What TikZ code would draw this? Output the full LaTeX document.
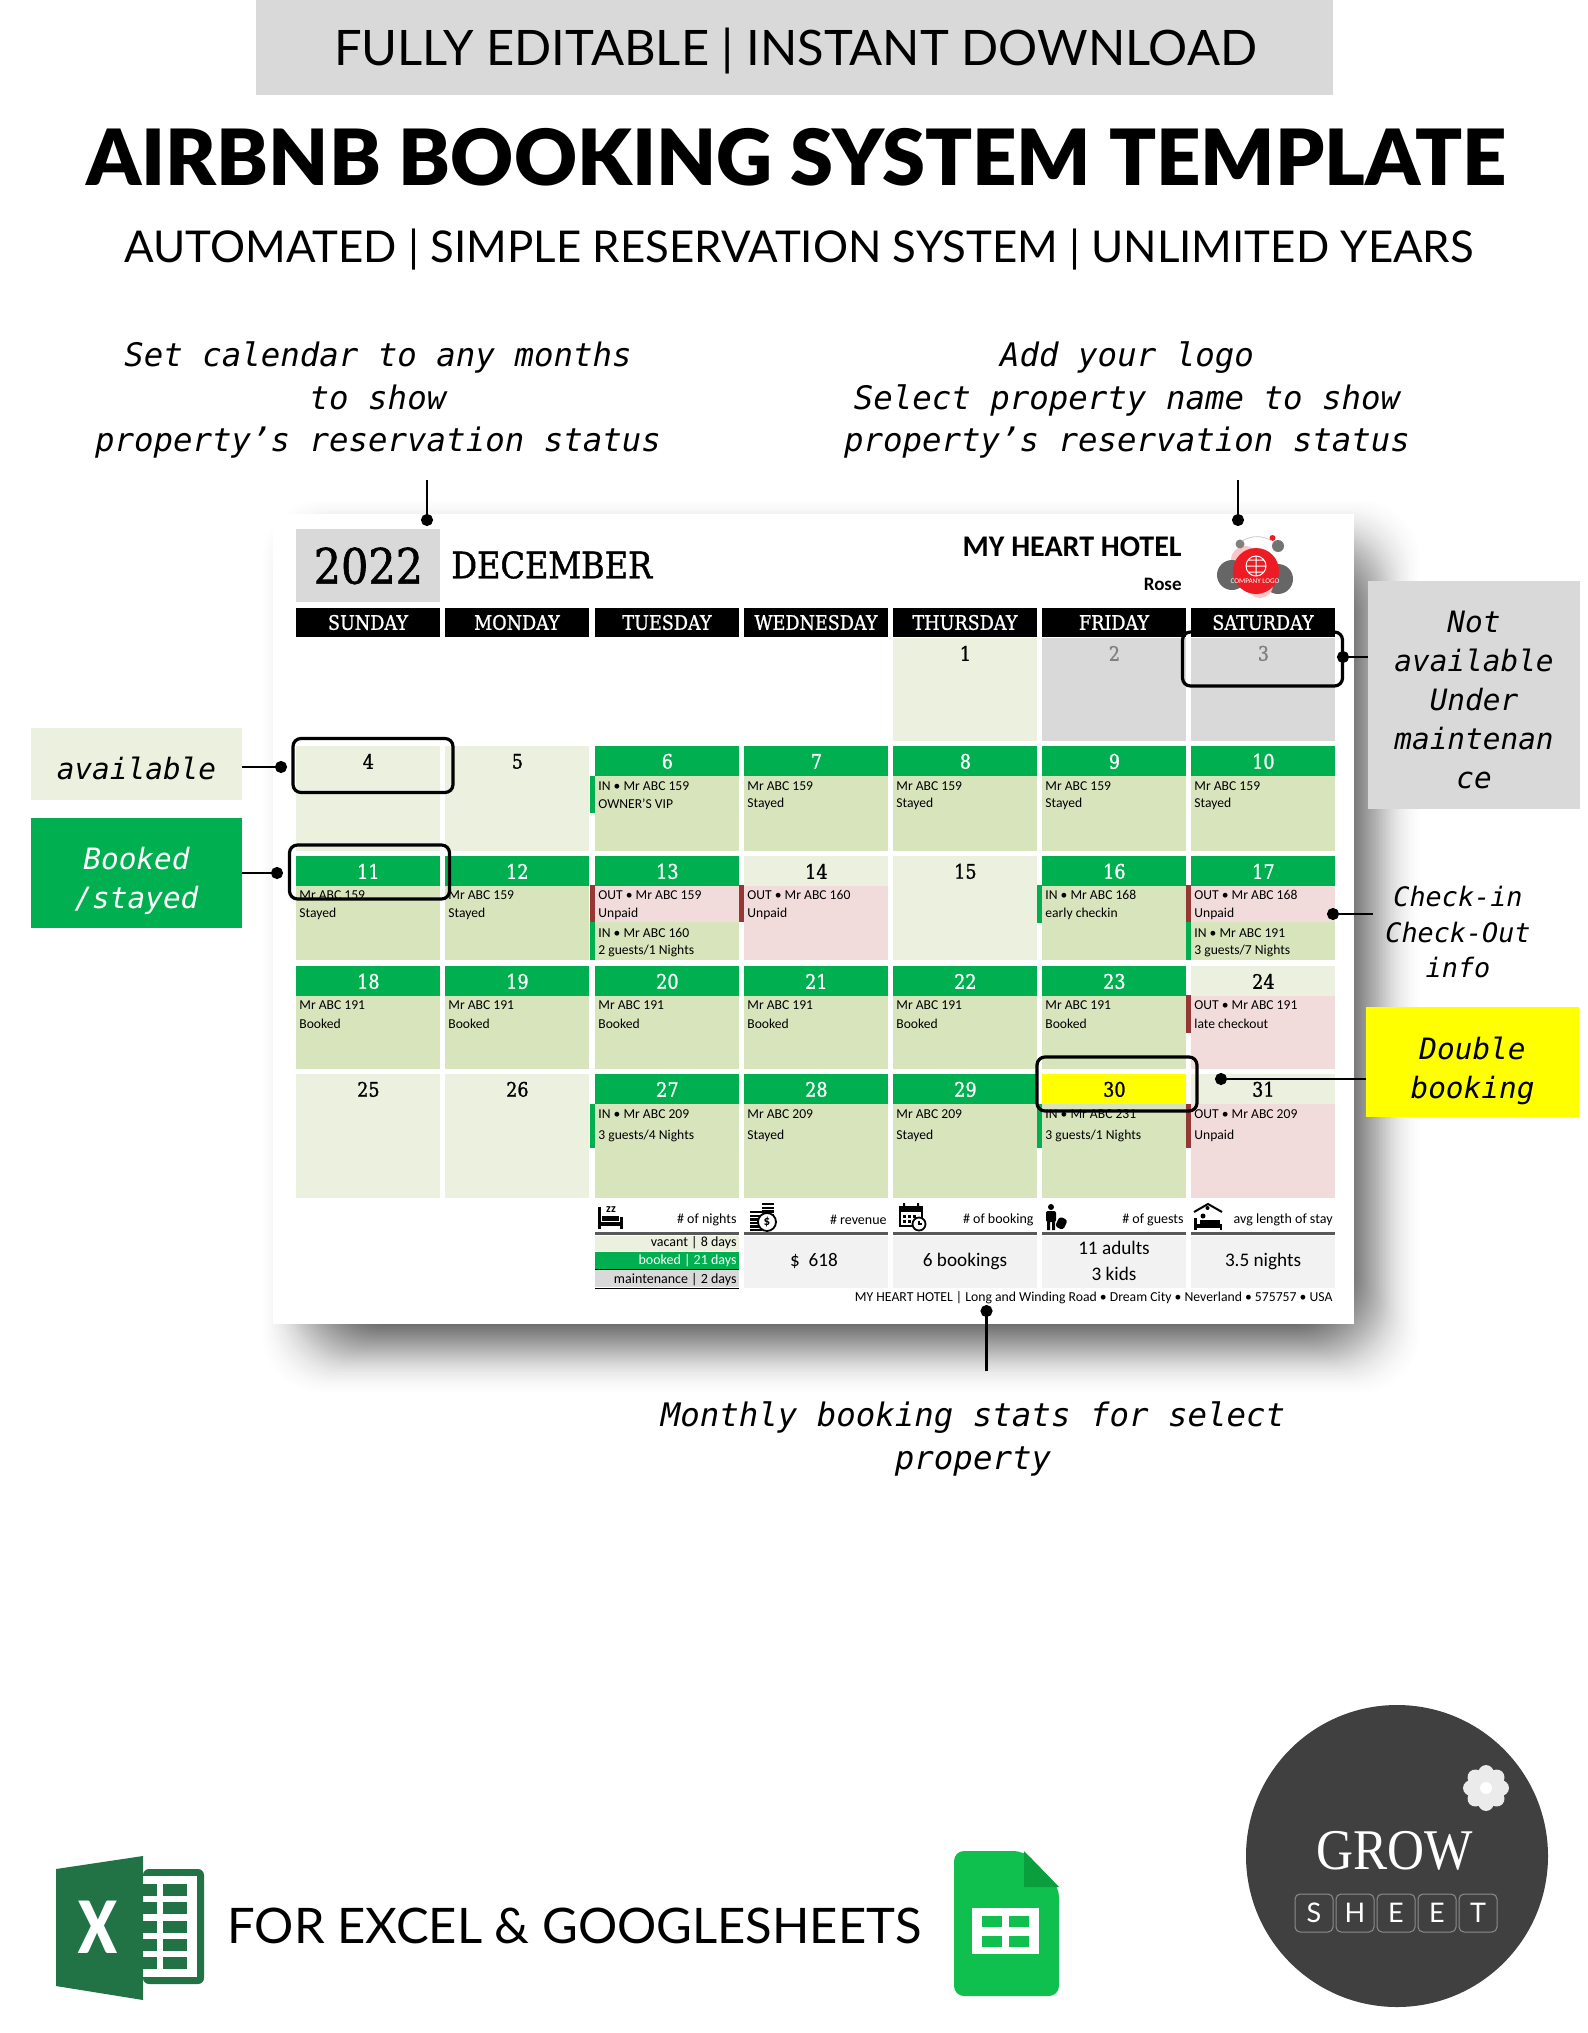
\documentclass[tikz,border=0pt]{standalone}
\usepackage{fontspec}
\setmainfont{Carlito}
\newfontfamily\slabfont[FakeStretch=0.88,FakeBold=1.2]{DejaVu Serif}
\newfontfamily\headfont[BoldFont={Lato Black}]{Lato}
\newfontfamily\notefont{DejaVu Sans Mono}
\newfontfamily\growfont[FakeStretch=0.89]{Liberation Serif}
\usetikzlibrary{arrows.meta}
\definecolor{cellgreen}{HTML}{00B050}
\definecolor{cellbody}{HTML}{D8E4BC}
\definecolor{cellfree}{HTML}{EBF1DE}
\definecolor{cellpink}{HTML}{F2DCDB}
\definecolor{cellgrey}{HTML}{D9D9D9}
\definecolor{cellyellow}{HTML}{FFFF00}
\definecolor{barred}{HTML}{953735}
\definecolor{statgrey}{HTML}{F2F2F2}
\definecolor{growgrey}{HTML}{404040}
\definecolor{xlgreen}{HTML}{217346}
\definecolor{gsgreen}{HTML}{10C04F}
\definecolor{gsfold}{HTML}{0A9E3C}
\definecolor{logored}{HTML}{ED1C24}
\tikzset{>=latex,
note/.style={font=\notefont\itshape\fontsize{14.7}{19.5}\selectfont, align=center, inner sep=0},
bignote/.style={font=\notefont\itshape\fontsize{16.2}{21.3}\selectfont, align=center, inner sep=0},
leader/.style={line width=1.2pt, -{Circle[length=6pt]}},
ring/.style={draw, line width=1.6pt, rounded corners=4pt, inner sep=0, minimum height=27pt, minimum width=80pt},
weekhead/.style={fill=black, text=white, font=\slabfont\fontsize{10}{10}\selectfont, minimum width=72pt, minimum height=14.5pt, inner sep=0},
hgreen/.style={fill=cellgreen, text=white},
hfree/.style={fill=cellfree},
hgrey/.style={fill=cellgrey, text=black!50},
hyellow/.style={fill=cellyellow},
dayhead/.style={anchor=north west, font=\slabfont\fontsize{10}{10}\selectfont, minimum width=72pt, minimum height=15pt, inner sep=0},
guest/.style={anchor=west, font=\fontsize{6.8}{7}\selectfont, inner sep=0},
statlabel/.style={anchor=east, font=\fontsize{7}{7}\selectfont, inner sep=0},
statvalue/.style={font=\fontsize{9.6}{10}\selectfont, inner sep=0},
sheetkey/.style={draw=black!45, line width=.5pt, rounded corners=2.5pt, text=white, font=\headfont\fontsize{13.5}{14}\selectfont, minimum width=19pt, minimum height=19pt, inner sep=0}
}
\newcommand{\daycell}[6]{%
\fill[#6] (#2,#3+30) rectangle (#2+144,#4);
\node[dayhead,#5] (day#1) at (#2,#3) {#1};
}
\newcommand{\sidebar}[4]{\fill[#1] (#2-5,#3) rectangle (#2,#4);}
\begin{document}
\begin{tikzpicture}[x=0.5pt,y=-0.5pt]
\useasboundingbox (0,0) rectangle (1588,2033);
\fill[white] (0,0) rectangle (1588,2033);

\node[fill=cellgrey, minimum width=538.5pt, minimum height=47.5pt, inner sep=0] (banner) at (794.5,47.5) {};
\node[font=\headfont\fontsize{24.45}{28}\selectfont, inner sep=0] (bannertext) at (795.5,51) {FULLY EDITABLE | INSTANT DOWNLOAD};
\node[font=\headfont\bfseries\fontsize{38.8}{40}\selectfont, inner sep=0] (title) at (796.5,157.5) {AIRBNB BOOKING SYSTEM TEMPLATE};
\node[font=\headfont\fontsize{21.9}{26}\selectfont, inner sep=0] (subtitle) at (799,250) {AUTOMATED | SIMPLE RESERVATION SYSTEM | UNLIMITED YEARS};

\node[bignote] (calnote) at (378,400) {Set calendar to any months\\to show\\property’s reservation status};
\node[bignote] (logonote) at (1127,400) {Add your logo\\Select property name to show\\property’s reservation status};

\foreach \i in {0,...,59} {
\pgfmathsetmacro\p{\i/59}
\pgfmathsetmacro\o{0.002+0.035*\p}
\fill[black, opacity=\o, rounded corners=30pt] (262+\p*85,500+\p*85) rectangle (1420-\p*90,1393-\p*88);
}
\fill[white] (273,514) rectangle (1353.5,1324);

\node[fill=cellgrey, minimum width=72pt, minimum height=36.5pt, inner sep=0, anchor=north west, font=\slabfont\fontsize{24.4}{25}\selectfont] (year) at (296,529) {2022};
\node[anchor=west, inner sep=0, font=\slabfont\fontsize{18.2}{19}\selectfont] (month) at (451,565) {DECEMBER};
\node[anchor=east, inner sep=0, font=\bfseries\fontsize{15}{16}\selectfont] (hotel) at (1182,547) {MY HEART HOTEL};
\node[anchor=east, inner sep=0, font=\bfseries\fontsize{9.5}{10}\selectfont] (owner) at (1182,584) {Rose};

\fill[logored!25] (1245,560) circle (14);
\fill[black!60] (1232,575) circle (15);
\fill[black!60] (1278,579) circle (15);
\fill[logored!25] (1260,585) circle (13);
\fill[black!50] (1240,544) circle (4.5);
\fill[black!55] (1278,546) circle (6);
\fill[logored] (1272.5,538) circle (3);
\draw[black!20, line width=.4pt] (1242,541) to[bend left=30] (1272,541);
\fill[logored] (1256,571) circle (23);
\draw[white, line width=.5pt] (1256,566) circle (10) (1246,566) -- (1266,566) (1256,556) -- (1256,576) (1248,560) -- (1264,560) (1248,572) -- (1264,572);
\node[text=white, inner sep=0, font=\fontsize{3.6}{4}\selectfont] (logotext) at (1255,581) {COMPANY LOGO};

\foreach \d/\x in {SUNDAY/368,MONDAY/517,TUESDAY/667,WEDNESDAY/816,THURSDAY/965,FRIDAY/1114,SATURDAY/1263}
\node[weekhead] (head\d) at (\x,622.5) {\d};

\foreach \n/\x/\s/\b in {1/893/hfree/cellfree,2/1042/hgrey/cellgrey,3/1191/hgrey/cellgrey}
{\daycell{\n}{\x}{638}{741}{\s}{\b}}
\foreach \n/\x/\s/\b in {4/296/hfree/cellfree,5/445/hfree/cellfree,6/595/hgreen/cellbody,7/744/hgreen/cellbody,8/893/hgreen/cellbody,9/1042/hgreen/cellbody,10/1191/hgreen/cellbody}
{\daycell{\n}{\x}{746}{851}{\s}{\b}}
\foreach \n/\x/\s/\b in {11/296/hgreen/cellbody,12/445/hgreen/cellbody,13/595/hgreen/cellbody,14/744/hfree/cellpink,15/893/hfree/cellfree,16/1042/hgreen/cellbody,17/1191/hgreen/cellbody}
{\daycell{\n}{\x}{856}{960}{\s}{\b}}
\foreach \n/\x/\s/\b in {18/296/hgreen/cellbody,19/445/hgreen/cellbody,20/595/hgreen/cellbody,21/744/hgreen/cellbody,22/893/hgreen/cellbody,23/1042/hgreen/cellbody,24/1191/hfree/cellpink}
{\daycell{\n}{\x}{966}{1069}{\s}{\b}}
\foreach \n/\x/\s/\b in {25/296/hfree/cellfree,26/445/hfree/cellfree,27/595/hgreen/cellbody,28/744/hgreen/cellbody,29/893/hgreen/cellbody,30/1042/hyellow/cellbody,31/1191/hfree/cellpink}
{\daycell{\n}{\x}{1074}{1198}{\s}{\b}}

\fill[cellpink] (595,886) rectangle (739,922);
\fill[cellpink] (1191,886) rectangle (1335,922);
\sidebar{cellgreen}{595}{776}{813}
\sidebar{barred}{595}{885}{922}
\sidebar{cellgreen}{595}{922}{960}
\sidebar{barred}{744}{885}{922}
\sidebar{cellgreen}{1042}{885}{923}
\sidebar{barred}{1191}{885}{922}
\sidebar{cellgreen}{1191}{922}{960}
\sidebar{barred}{1191}{995}{1033}
\sidebar{cellgreen}{595}{1104}{1148}
\sidebar{cellgreen}{1042}{1104}{1148}
\sidebar{barred}{1191}{1104}{1148}

\foreach \x/\y/\t in {598/786/{IN • Mr ABC 159},598/804/{OWNER'S VIP},
747/786/{Mr ABC 159},747/804/Stayed,896/786/{Mr ABC 159},896/804/Stayed,1045/786/{Mr ABC 159},1045/804/Stayed,1194/786/{Mr ABC 159},1194/804/Stayed,
299/895/{Mr ABC 159},299/914/Stayed,448/895/{Mr ABC 159},448/914/Stayed,
598/895/{OUT • Mr ABC 159},598/914/Unpaid,598/933/{IN • Mr ABC 160},598/951/{2 guests/1 Nights},
747/895/{OUT • Mr ABC 160},747/914/Unpaid,
1045/895/{IN • Mr ABC 168},1045/914/{early checkin},
1194/895/{OUT • Mr ABC 168},1194/914/Unpaid,1194/933/{IN • Mr ABC 191},1194/951/{3 guests/7 Nights},
299/1005/{Mr ABC 191},299/1024/Booked,448/1005/{Mr ABC 191},448/1024/Booked,598/1005/{Mr ABC 191},598/1024/Booked,747/1005/{Mr ABC 191},747/1024/Booked,896/1005/{Mr ABC 191},896/1024/Booked,1045/1005/{Mr ABC 191},1045/1024/Booked,
1194/1005/{OUT • Mr ABC 191},1194/1024/{late checkout},
598/1114/{IN • Mr ABC 209},598/1136/{3 guests/4 Nights},747/1114/{Mr ABC 209},747/1136/Stayed,896/1114/{Mr ABC 209},896/1136/Stayed,
1045/1114/{IN • Mr ABC 231},1045/1136/{3 guests/1 Nights},1194/1114/{OUT • Mr ABC 209},1194/1136/Unpaid}
\node[guest] (guest-\x-\y) at (\x,\y) {\t};

\foreach \x/\t in {737/{\# of nights},887/{\# revenue},1034/{\# of booking},1184/{\# of guests},1333/{avg length of stay}}
\node[statlabel] (stat\x) at (\x,1220) {\t};
\foreach \x in {595,744,893,1042,1191}
\fill[black!65] (\x,1232) rectangle (\x+144,1234.5);
\foreach \x in {744,893,1042,1191}
\fill[statgrey] (\x,1236) rectangle (\x+144,1288);
\fill[cellfree] (595,1236) rectangle (739,1251);
\fill[cellgreen] (595,1252) rectangle (739,1269);
\fill[cellgrey] (595,1270) rectangle (739,1287);
\draw[line width=.5pt] (595,1269.5) -- (739,1269.5) (595,1288) -- (739,1288);
\node[statlabel] (vacant) at (737,1243) {vacant | 8 days};
\node[statlabel, text=white] (booked) at (737,1261) {booked | 21 days};
\node[statlabel] (maint) at (737,1280) {maintenance | 2 days};
\node[statvalue] (revenue) at (814,1261) {\$ \ 618};
\node[statvalue] (bookings) at (965,1261) {6 bookings};
\node[statvalue, align=center, font=\fontsize{9.6}{12.7}\selectfont] (guests) at (1114,1261) {11 adults\\3 kids};
\node[statvalue] (nights) at (1263,1261) {3.5 nights};
\node[anchor=east, inner sep=0, font=\fontsize{6.85}{7}\selectfont] (address) at (1333,1298) {MY HEART HOTEL | Long and Winding Road • Dream City • Neverland • 575757 • USA};

\begin{scope}[shift={(598,1207)}]
\fill (0,0) rectangle (2.5,22);
\fill (0,15) rectangle (24,19);
\fill (22,10) rectangle (24.5,22);
\fill (4,9) rectangle (21,14);
\node[inner sep=0, font=\bfseries\fontsize{6}{6}\selectfont] (zzz) at (13,3) {zz};
\end{scope}
\begin{scope}[shift={(750,1203)}]
\foreach \i in {0,...,5} \fill (0,8+\i*3.6) rectangle (12,10.4+\i*3.6);
\foreach \i in {0,...,3} \fill (12,0+\i*3.6) rectangle (24,2.4+\i*3.6);
\draw[fill=white, line width=.9pt] (17,19) circle (9);
\node[inner sep=0, font=\bfseries\fontsize{6.5}{7}\selectfont] (dollar) at (17,19) {\$};
\end{scope}
\begin{scope}[shift={(899,1203)}]
\draw[line width=.9pt] (1,4) rectangle (23,23);
\fill (1,4) rectangle (23,9);
\fill (4,0) rectangle (6,6) (18,0) rectangle (20,6);
\foreach \x in {4,9,14} \foreach \y in {12,17} \fill (\x,\y) rectangle (\x+3,\y+3);
\draw[fill=white, line width=.9pt] (20,21) circle (6.5);
\draw[line width=.7pt] (20,17.5) -- (20,21) -- (23,21);
\end{scope}
\begin{scope}[shift={(1046,1204)}]
\fill (5,3) circle (3);
\fill[rounded corners=1pt] (0,7) rectangle (10,18);
\fill (1,18) rectangle (4,26) (6,18) rectangle (9,26);
\fill[rounded corners=1.5pt, rotate around={-25:(16,19)}] (11,14) rectangle (20,25);
\end{scope}
\begin{scope}[shift={(1194,1203)}]
\draw[line width=1pt] (0,9) -- (14,1) -- (28,9);
\fill (0,15) rectangle (2.5,27);
\fill (0,21) rectangle (28,25);
\fill (25.5,21) rectangle (28,27);
\fill (9,13) circle (2.5);
\fill (6,17) rectangle (26,20.5);
\fill (13.5,5) circle (2);
\end{scope}

\node[fill=cellfree, minimum width=105.5pt, minimum height=36pt, inner sep=0] (availbox) at (136.5,764) {};
\node[note] (availtext) at (136.5,768) {available};
\node[fill=cellgreen, minimum width=105.5pt, minimum height=55pt, inner sep=0] (bookbox) at (136.5,873) {};
\node[note, text=white] (booktext) at (136.5,881) {Booked\\/stayed};
\node[fill=cellgrey, minimum width=106pt, minimum height=114pt, inner sep=0] (maintbox) at (1474,695) {};
\node[note] (mainttext) at (1474,700) {Not\\available\\Under\\maintenan\\ce};
\node[note, font=\notefont\itshape\fontsize{13.4}{17.6}\selectfont] (checknote) at (1458,932) {Check-in\\Check-Out\\info};
\node[fill=cellyellow, minimum width=106.5pt, minimum height=55pt, inner sep=0] (doublebox) at (1472.5,1062) {};
\node[note] (doubletext) at (1472.5,1071) {Double\\booking};
\node[bignote] (statnote) at (973,1439) {Monthly booking stats for select\\property};

\node[ring] (ringfree) at (373,765.5) {};
\node[ring] (ringbook) at (369.5,872) {};
\node[ring] (ringmaint) at (1262.5,659) {};
\node[ring] (ringdouble) at (1117,1084) {};

\coordinate (calfree) at (427,480);
\coordinate (caldot) at (427,526);
\coordinate (logofree) at (1238,480);
\coordinate (logodot) at (1238,526);
\coordinate (availdot) at (287,767);
\coordinate (bookdot) at (283,873);
\coordinate (maintdot) at (1337,657);
\coordinate (checkfree) at (1373,914);
\coordinate (checkdot) at (1327,914);
\coordinate (doublefree) at (1366,1079);
\coordinate (doubledot) at (1215,1079);
\coordinate (statfree) at (986.5,1371);
\coordinate (statdot) at (986.5,1305);
\draw[leader] (calfree) -- (caldot);
\draw[leader] (logofree) -- (logodot);
\draw[leader] (availbox.east|-availdot) -- (availdot);
\draw[leader] (bookbox.east) -- (bookdot);
\draw[leader] (maintbox.west|-maintdot) -- (maintdot);
\draw[leader] (checkfree) -- (checkdot);
\draw[leader] (doublefree) -- (doubledot);
\draw[leader] (statfree) -- (statdot);

\fill[xlgreen, rounded corners=3pt] (143,1869) rectangle (204,1984);
\fill[white] (143,1876) rectangle (197,1977);
\foreach \i in {0,...,4} {
\fill[xlgreen] (143,1884+\i*18.3) rectangle (157,1896+\i*18.3);
\fill[xlgreen] (163,1884+\i*18.3) rectangle (187,1896+\i*18.3);
}
\fill[xlgreen] (143,1856) -- (56,1869) -- (56,1986) -- (143,2000) -- cycle;
\node[text=white, inner sep=0, font=\headfont\bfseries\fontsize{36}{36}\selectfont] (xlx) at (98,1927) {\scalebox{0.78}[1]{X}};
\node[anchor=west, inner sep=0, font=\headfont\fontsize{24.5}{26}\selectfont] (forexcel) at (227,1926) {FOR EXCEL \& GOOGLESHEETS};
\fill[gsgreen, rounded corners=5pt] (954,1996) -- (954,1851) -- (1024,1851) -- (1059,1887) -- (1059,1996) -- cycle;
\fill[gsfold] (1024,1851) -- (1059,1887) -- (1024,1887) -- cycle;
\fill[white] (972,1908) rectangle (1039,1954);
\foreach \x in {982,1009} \foreach \y in {1916,1936}
\fill[gsgreen] (\x,\y) rectangle (\x+20,\y+11);

\fill[growgrey] (1397,1856) circle (151);
\foreach \a in {0,45,...,315}
\fill[white!92!black, rotate around={\a:(1486,1788)}] (1486,1775) ellipse (8.5 and 10);
\fill[white] (1486,1788) circle (6);
\node[text=white, inner sep=0, font=\growfont\fontsize{28.8}{29}\selectfont] (grow) at (1395,1851) {GROW};
\foreach \x/\t in {1314/S,1355/H,1396/E,1437/E,1478/T}
\node[sheetkey] (key\x) at (\x,1913) {\t};
\end{tikzpicture}
\end{document}
